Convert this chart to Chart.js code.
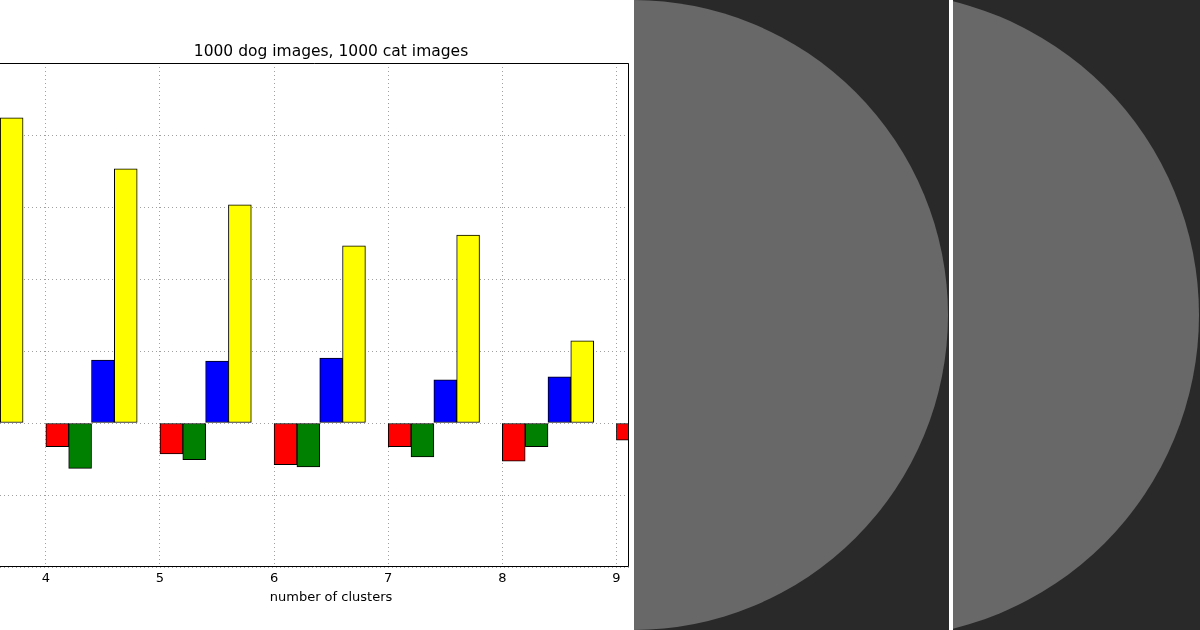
<!DOCTYPE html>
<html><head><meta charset="utf-8">
<script src="https://cdn.jsdelivr.net/npm/chart.js@4"></script>
<style>
html,body{margin:0;padding:0;background:#fff;width:1200px;height:630px;overflow:hidden;font-family:"DejaVu Sans",sans-serif;}
#wrap{position:absolute;left:0;top:0;width:630px;height:630px;}
.t{position:absolute;color:#000;white-space:nowrap;transform:translateX(-50%);}
#p1{position:absolute;left:634px;top:0;width:315px;height:630px;background:#292929;overflow:hidden;}
#p2{position:absolute;left:953px;top:0;width:247px;height:630px;background:#292929;overflow:hidden;}
.c{position:absolute;border-radius:50%;background:#686868;}
#sep{position:absolute;left:949px;top:0;width:4px;height:630px;background:#fff;}
</style></head><body>
<div id="wrap"><canvas id="c" width="630" height="630"></canvas></div>
<div class="t" style="left:331px;top:42px;font-size:15.5px;">1000 dog images, 1000 cat images</div>
<div class="t" style="left:331px;top:589px;font-size:13px;">number of clusters</div>
<div id="p1"><div class="c" style="left:-316px;top:0;width:630px;height:630px;"></div></div>
<div id="sep"></div>
<div id="p2"><div class="c" style="left:-400px;top:-8px;width:646px;height:646px;"></div></div>
<script>
const clusters = [3, 4, 5, 6, 7, 8, 9];
const redVals    = [-0.40, -0.33, -0.43, -0.58, -0.33, -0.53, -0.24];
const greenVals  = [-0.50, -0.63, -0.51, -0.61, -0.47, -0.33, -0.40];
const blueVals   = [0.86, 0.875, 0.86, 0.90, 0.60, 0.64, 0.50];
const yellowVals = [4.24, 3.53, 3.03, 2.46, 2.61, 1.14, 1.50];
const xTicks = [4, 5, 6, 7, 8, 9];
const yTicks = [-2, -1, 0, 1, 2, 3, 4, 5];

function ds(vals, off, color){
  return {data: clusters.map((c,i)=>({x:c+off, y:vals[i]})), backgroundColor:color,
    borderColor:'#000', borderWidth:1, borderSkipped:false, barThickness:22.86, grouped:false};
}
const frame = {id:'frame', afterDraw(ch){const a=ch.chartArea,g=ch.ctx;g.save();g.strokeStyle='#000';g.lineWidth=1;
  g.beginPath();g.moveTo(a.left,a.top+0.5);g.lineTo(a.right-0.5,a.top+0.5);g.lineTo(a.right-0.5,a.bottom-0.5);g.lineTo(a.left,a.bottom-0.5);g.stroke();g.restore();}};
new Chart(document.getElementById('c'),{
  type:'bar',
  data:{datasets:[ds(redVals,0.1,'#ff0000'),ds(greenVals,0.3,'#008000'),ds(blueVals,0.5,'#0000ff'),ds(yellowVals,0.7,'#ffff00')]},
  options:{responsive:false,animation:false,
    layout:{padding:{top:63,left:0,right:1,bottom:0}},
    plugins:{legend:{display:false},tooltip:{enabled:false}},
    scales:{
      x:{type:'linear',min:3.598,max:9.11,offset:false,
        afterBuildTicks(s){s.ticks=xTicks.map(v=>({value:v}));},
        afterFit(s){s.height=63;},
        grid:{color:'#a0a0a0',drawTicks:false,offset:false},border:{display:false,dash:[1,3]},
        ticks:{color:'#000',font:{family:'DejaVu Sans',size:13},padding:4,maxRotation:0}},
      y:{min:-2,max:5,
        afterBuildTicks(s){s.ticks=yTicks.map(v=>({value:v}));},
        afterFit(s){s.width=0;},
        grid:{color:'#a0a0a0',drawTicks:false},border:{display:false,dash:[1,3]},
        ticks:{display:false}}
    }},
  plugins:[frame]
});
</script></body></html>
